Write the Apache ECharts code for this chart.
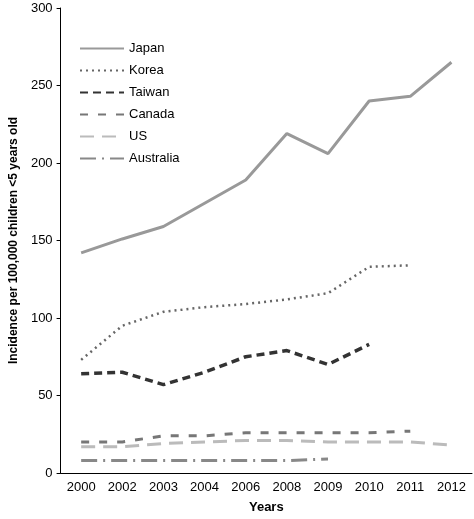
<!DOCTYPE html>
<html>
<head>
<meta charset="UTF-8">
<script src="https://cdn.jsdelivr.net/npm/echarts@6/dist/echarts.min.js"></script>
<style>
html,body{margin:0;padding:0;background:#fff;}
#c{width:474px;height:519px;}
</style>
</head>
<body>
<div id="c"></div>
<script>
var years = ['2000','2002','2003','2004','2006','2008','2009','2010','2011','2012'];
var japan = [142, 151, 159, 174, 189, 219, 206, 240, 243, 265];
var korea = [73, 95, 104, 107, 109, 112, 116, 133, 134];
var taiwan = [64, 65, 57, 65, 75, 79, 70, 83];
var canada = [20, 20, 24, 24, 26, 26, 26, 26, 27];
var us = [17, 17, 19, 20, 21, 21, 20, 20, 20, 18];
var australia = [8, 8, 8, 8, 8, 8, 9];

function line(name, data, color, width, type) {
    return {
        name: name, type: 'line', data: data, symbol: 'none',
        lineStyle: {color: color, width: width, type: type},
        itemStyle: {color: color}
    };
}

var chart = echarts.init(document.getElementById('c'));
chart.setOption({
    animation: false,
    grid: {left: 48, right: 2, top: 8, bottom: 42},
    legend: {
        orient: 'vertical', left: 74, top: 37, itemGap: 9, itemWidth: 44,
        itemStyle: {opacity: 0},
        textStyle: {fontFamily: 'Arial', fontSize: 13, color: '#000'},
        data: ['Japan', 'Korea', 'Taiwan', 'Canada', 'US', 'Australia']
    },
    xAxis: {
        type: 'category', data: years, boundaryGap: true,
        name: 'Years', nameLocation: 'middle', nameGap: 28,
        nameTextStyle: {fontWeight: 'bold', fontSize: 13, color: '#000'},
        axisLine: {lineStyle: {color: '#000'}},
        axisTick: {show: false},
        axisLabel: {color: '#000', fontSize: 13}
    },
    yAxis: {
        type: 'value', min: 0, max: 300, interval: 50,
        name: 'Incidence per 100,000 children <5 years old', nameLocation: 'middle', nameGap: 32,
        nameTextStyle: {fontWeight: 'bold', fontSize: 12, color: '#000'},
        axisLine: {show: true, lineStyle: {color: '#000'}},
        axisTick: {show: true, length: 4},
        splitLine: {show: false},
        axisLabel: {color: '#000', fontSize: 13}
    },
    series: [
        line('Japan', japan, '#999', 3, 'solid'),
        line('Korea', korea, '#666', 2.5, [2, 4]),
        line('Taiwan', taiwan, '#333', 3.5, [8, 5]),
        line('Canada', canada, '#777', 3, [8, 10]),
        line('US', us, '#bbb', 3, [14, 8]),
        line('Australia', australia, '#888', 3, [16, 6, 2, 6])
    ]
});
</script>
</body>
</html>
